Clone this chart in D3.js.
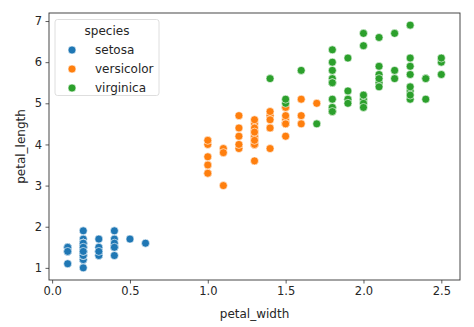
<!DOCTYPE html>
<html>
<head>
<meta charset="utf-8">
<script src="https://cdn.jsdelivr.net/npm/d3@7"></script>
<style>
  body { margin: 0; background: #fff; }
  text { font-family: "DejaVu Sans", sans-serif; fill: #262626; }
</style>
</head>
<body>
<div id="chart"></div>
<script>
// iris petal measurements, one pair of arrays per species
const species = ['setosa', 'versicolor', 'virginica'];
const colors = ['#1f77b4', '#ff7f0e', '#2ca02c'];

const setosaWidth = [0.2,0.2,0.2,0.2,0.2,0.4,0.3,0.2,0.2,0.1,0.2,0.2,0.1,0.1,0.2,0.4,0.4,0.3,0.3,0.3,
  0.2,0.4,0.2,0.5,0.2,0.2,0.4,0.2,0.2,0.2,0.2,0.4,0.1,0.2,0.2,0.2,0.2,0.1,0.2,0.2,
  0.3,0.3,0.2,0.6,0.4,0.3,0.2,0.2,0.2,0.2];
const setosaLength = [1.4,1.4,1.3,1.5,1.4,1.7,1.4,1.5,1.4,1.5,1.5,1.6,1.4,1.1,1.2,1.5,1.3,1.4,1.7,1.5,
  1.7,1.5,1.0,1.7,1.9,1.6,1.6,1.5,1.4,1.6,1.6,1.5,1.5,1.4,1.5,1.2,1.3,1.4,1.3,1.5,
  1.3,1.3,1.3,1.6,1.9,1.4,1.6,1.4,1.5,1.4];

const versicolorWidth = [1.4,1.5,1.5,1.3,1.5,1.3,1.6,1.0,1.3,1.4,1.0,1.5,1.0,1.4,1.3,1.4,1.5,1.0,1.5,1.1,
  1.8,1.3,1.5,1.2,1.3,1.4,1.4,1.7,1.5,1.0,1.1,1.0,1.2,1.6,1.5,1.6,1.5,1.3,1.3,1.3,
  1.2,1.4,1.2,1.0,1.3,1.2,1.3,1.3,1.1,1.3];
const versicolorLength = [4.7,4.5,4.9,4.0,4.6,4.5,4.7,3.3,4.6,3.9,3.5,4.2,4.0,4.7,3.6,4.4,4.5,4.1,4.5,3.9,
  4.8,4.0,4.9,4.7,4.3,4.4,4.8,5.0,4.5,3.5,3.8,3.7,3.9,5.1,4.5,4.5,4.7,4.4,4.1,4.0,
  4.4,4.6,4.0,3.3,4.2,4.2,4.2,4.3,3.0,4.1];

const virginicaWidth = [2.5,1.9,2.1,1.8,2.2,2.1,1.7,1.8,1.8,2.5,2.0,1.9,2.1,2.0,2.4,2.3,1.8,2.2,2.3,1.5,
  2.3,2.0,2.0,1.8,2.1,1.8,1.8,1.8,2.1,1.6,1.9,2.0,2.2,1.5,1.4,2.3,2.4,1.8,1.8,2.1,
  2.4,2.3,1.9,2.3,2.5,2.3,1.9,2.0,2.3,1.8];
const virginicaLength = [6.0,5.1,5.9,5.6,5.8,6.6,4.5,6.3,5.8,6.1,5.1,5.3,5.5,5.0,5.1,5.3,5.5,6.7,6.9,5.0,
  5.7,4.9,6.7,4.9,5.7,6.0,4.8,4.9,5.6,5.8,6.1,6.4,5.6,5.1,5.6,6.1,5.6,5.5,4.8,5.4,
  5.6,5.1,5.1,5.9,5.7,5.2,5.0,5.2,5.4,5.1];

const xTicks = [0.0, 0.5, 1.0, 1.5, 2.0, 2.5];
const yTicks = [1, 2, 3, 4, 5, 6, 7];

const widths = [setosaWidth, versicolorWidth, virginicaWidth];
const lengths = [setosaLength, versicolorLength, virginicaLength];
const points = [];
species.forEach((s, i) => {
  widths[i].forEach((w, j) => points.push({ species: s, width: w, length: lengths[i][j] }));
});

const W = 474, H = 327;
const margin = { top: 13, right: 14, bottom: 47, left: 49 };
const innerW = W - margin.left - margin.right;
const innerH = H - margin.top - margin.bottom;

const svg = d3.select('#chart').append('svg')
  .attr('width', W)
  .attr('height', H);

const g = svg.append('g')
  .attr('transform', `translate(${margin.left},${margin.top})`);

// matplotlib style 5% padding around the data
const xExt = d3.extent(points, d => d.width);
const yExt = d3.extent(points, d => d.length);
const xPad = (xExt[1] - xExt[0]) * 0.05;
const yPad = (yExt[1] - yExt[0]) * 0.05;

const x = d3.scaleLinear()
  .domain([xExt[0] - xPad, xExt[1] + xPad])
  .range([0, innerW]);
const y = d3.scaleLinear()
  .domain([yExt[0] - yPad, yExt[1] + yPad])
  .range([innerH, 0]);

const color = d3.scaleOrdinal().domain(species).range(colors);

// axes
const xAxis = g.append('g')
  .attr('transform', `translate(0,${innerH})`)
  .call(d3.axisBottom(x).tickValues(xTicks).tickFormat(d3.format('.1f')).tickSize(3.5).tickPadding(3.5));
const yAxis = g.append('g')
  .call(d3.axisLeft(y).tickValues(yTicks).tickFormat(d3.format('d')).tickSize(3.5).tickPadding(3.5));

[xAxis, yAxis].forEach(a => {
  a.select('.domain').remove();
  a.selectAll('line').attr('stroke', '#333').attr('stroke-width', 0.8);
  a.selectAll('text').attr('font-size', 11.5).style('fill', '#262626');
});

// dots
g.append('g')
  .selectAll('circle')
  .data(points)
  .enter()
  .append('circle')
  .attr('cx', d => x(d.width))
  .attr('cy', d => y(d.length))
  .attr('r', 4)
  .attr('fill', d => color(d.species))
  .attr('stroke', '#fff')
  .attr('stroke-width', 0.6);

// frame
g.append('rect')
  .attr('width', innerW)
  .attr('height', innerH)
  .attr('fill', 'none')
  .attr('stroke', '#333')
  .attr('stroke-width', 0.9);

// axis labels
svg.append('text')
  .attr('x', margin.left + innerW / 2)
  .attr('y', H - 9)
  .attr('text-anchor', 'middle')
  .attr('font-size', 12)
  .text('petal_width');

svg.append('text')
  .attr('transform', `translate(25,${margin.top + innerH / 2}) rotate(-90)`)
  .attr('text-anchor', 'middle')
  .attr('font-size', 12)
  .text('petal_length');

// legend
const legend = svg.append('g').attr('transform', 'translate(55,19.5)');
legend.append('rect')
  .attr('width', 104)
  .attr('height', 76)
  .attr('rx', 2.5)
  .attr('fill', 'rgba(255,255,255,0.8)')
  .attr('stroke', '#d6d6d6')
  .attr('stroke-width', 0.8);
legend.append('text')
  .attr('x', 52)
  .attr('y', 15)
  .attr('text-anchor', 'middle')
  .attr('font-size', 12)
  .text('species');
species.forEach((s, i) => {
  const row = legend.append('g').attr('transform', `translate(0,${30.5 + i * 19})`);
  row.append('circle')
    .attr('cx', 17)
    .attr('cy', 0)
    .attr('r', 4)
    .attr('fill', color(s))
    .attr('stroke', '#fff')
    .attr('stroke-width', 0.6);
  row.append('text')
    .attr('x', 40)
    .attr('y', 4.2)
    .attr('font-size', 12)
    .text(s);
});
</script>
</body>
</html>
